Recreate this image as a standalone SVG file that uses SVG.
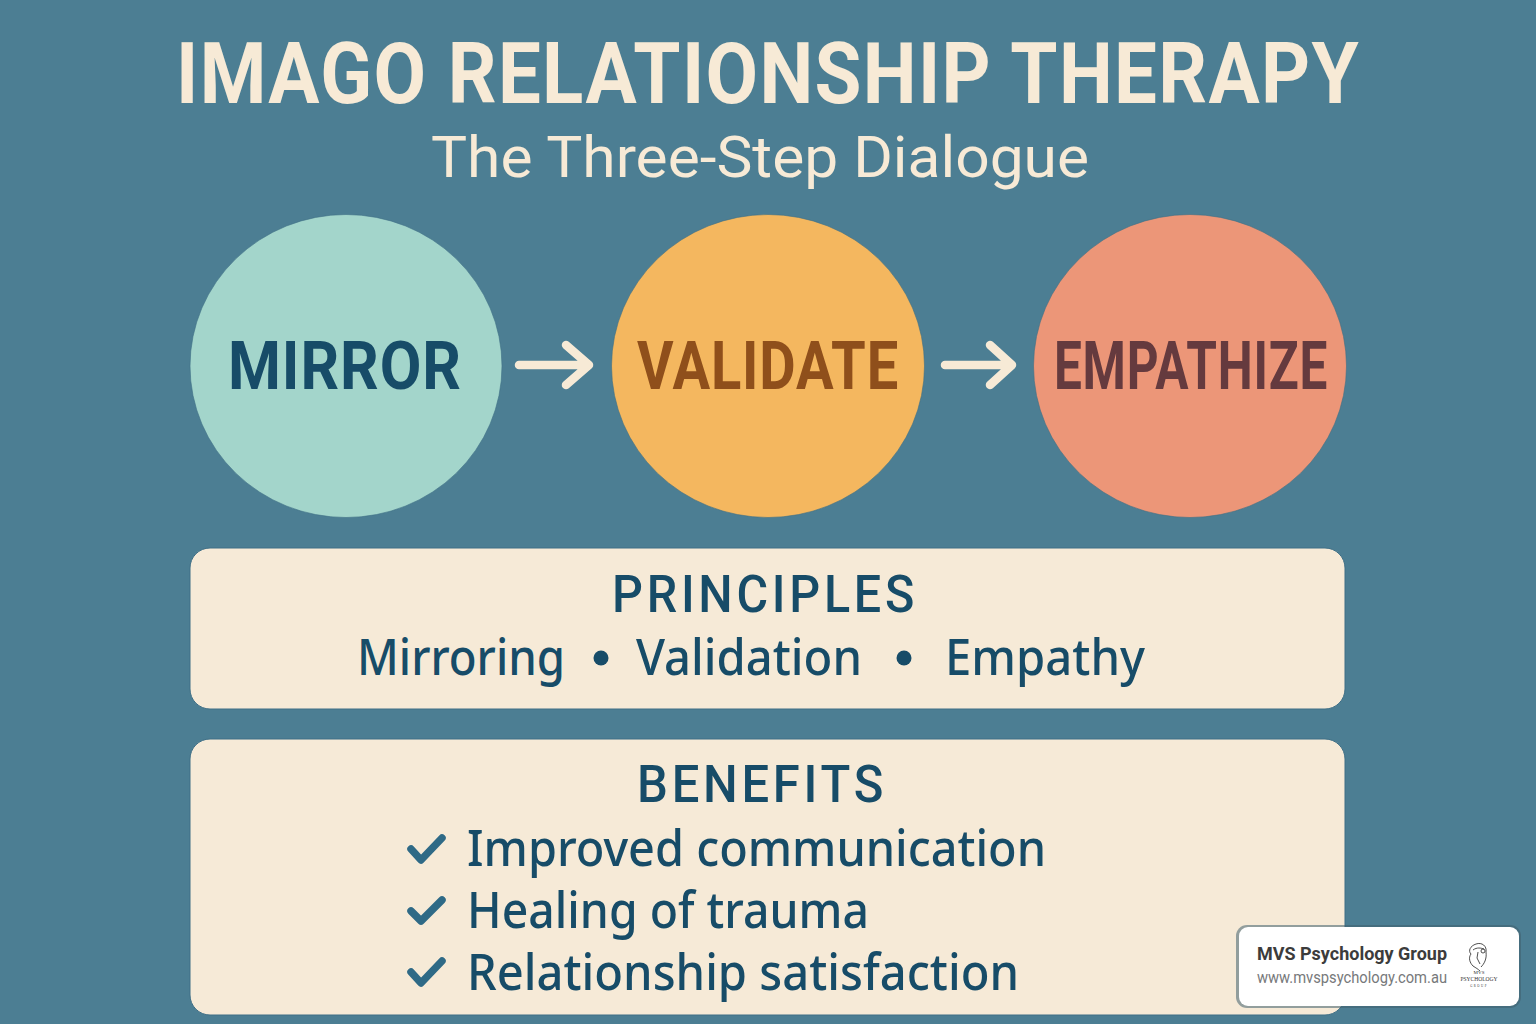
<svg xmlns="http://www.w3.org/2000/svg" width="1536" height="1024" viewBox="0 0 1536 1024">
<style>
text{font-family:"Noto Sans","Open Sans","Liberation Sans",sans-serif;text-anchor:middle}
.rb{font-family:Roboto,"Liberation Sans",sans-serif}
.cream{fill:#f7ead6}
.navy{fill:#174c68}
.node{font-weight:700;font-size:66px;letter-spacing:1px}
.head{font-weight:500;font-size:52px;letter-spacing:4px}
.item{font-weight:500;font-size:50px}
.li{text-anchor:start}
.arrow{fill:none;stroke:#f7ead6;stroke-width:8.500;stroke-linecap:round;stroke-linejoin:round}
.check{fill:none;stroke:#2f6a86;stroke-width:7.500;stroke-linecap:round;stroke-linejoin:round}
.card{fill:#f6ead7;stroke:#3f6f86;stroke-width:1}
.edge{stroke:#3f6f86;stroke-width:1;stroke-opacity:.6}
.logo{fill:none;stroke:#222;stroke-width:.8}
.lt{font-family:"Liberation Serif",serif;fill:#333}
</style>
<rect id="background" width="1536" height="1024" fill="#4c7e93"/>
<g id="title">
<text class="cream rb li" x="176" y="103" font-size="85" font-weight="700" letter-spacing="1.500" textLength="1184" lengthAdjust="spacingAndGlyphs">IMAGO RELATIONSHIP THERAPY</text>
<text class="cream rb" x="760" y="177" font-size="58" font-weight="400" textLength="658" lengthAdjust="spacingAndGlyphs">The Three-Step Dialogue</text>
</g>
<g id="node-mirror">
<ellipse class="edge" cx="346" cy="366" rx="156" ry="151.500" fill="#a3d5cb"/>
<text class="node rb" x="345" y="389" fill="#174c68" textLength="234" lengthAdjust="spacingAndGlyphs">MIRROR</text>
</g>
<g id="node-validate">
<ellipse class="edge" cx="768" cy="366" rx="156.500" ry="151.500" fill="#f4b75f"/>
<text class="node rb" x="768" y="389" fill="#8f4f1b" textLength="262" lengthAdjust="spacingAndGlyphs">VALIDATE</text>
</g>
<g id="node-empathize">
<ellipse class="edge" cx="1190" cy="366" rx="156.500" ry="151.500" fill="#ec9678"/>
<text class="node rb" x="1191" y="389" fill="#653a3e" textLength="274" lengthAdjust="spacingAndGlyphs">EMPATHIZE</text>
</g>
<g id="connectors">
<path class="arrow" d="M519 365H587M566 345L589 365L566 385"/>
<path class="arrow" d="M945 365H1011M990 345L1012 365L990 385"/>
</g>
<g id="node-principles">
<rect class="card" x="190" y="548" width="1155" height="161" rx="20"/>
<text class="head navy rb" x="765" y="612" textLength="306" lengthAdjust="spacingAndGlyphs">PRINCIPLES</text>
<text class="item navy li" x="357" y="675" textLength="208" lengthAdjust="spacingAndGlyphs">Mirroring</text>
<circle cx="601" cy="658" r="7.500" fill="#174c68"/>
<text class="item navy li" x="636" y="675" textLength="226" lengthAdjust="spacingAndGlyphs">Validation</text>
<circle cx="904" cy="658" r="7.500" fill="#174c68"/>
<text class="item navy li" x="945" y="675" textLength="200" lengthAdjust="spacingAndGlyphs">Empathy</text>
</g>
<g id="node-benefits">
<rect class="card" x="190" y="739" width="1155" height="276" rx="20"/>
<text class="head navy rb" x="762" y="802" textLength="250" lengthAdjust="spacingAndGlyphs">BENEFITS</text>
<path class="check" d="M411 849L421 860L442 838"/>
<path class="check" d="M411 911L421 921L442 900"/>
<path class="check" d="M411 972L421 983L442 961"/>
<text class="item navy li" x="467" y="866" textLength="579" lengthAdjust="spacingAndGlyphs">Improved communication</text>
<text class="item navy li" x="467" y="928" textLength="402" lengthAdjust="spacingAndGlyphs">Healing of trauma</text>
<text class="item navy li" x="467" y="990" textLength="552" lengthAdjust="spacingAndGlyphs">Relationship satisfaction</text>
</g>
<g id="badge">
<rect x="1236" y="925" width="285" height="83" rx="11" fill="#3f5f6e" fill-opacity=".55"/>
<rect x="1239" y="927" width="280" height="79" rx="9" fill="#fff"/>
<text x="1257" y="960" font-size="17.500" font-weight="700" fill="#3c3c3c" style="font-family:Roboto,'Liberation Sans',sans-serif;text-anchor:start" textLength="190" lengthAdjust="spacingAndGlyphs">MVS Psychology Group</text>
<text x="1257" y="983" font-size="16" fill="#77797b" style="font-family:Roboto,'Liberation Sans',sans-serif;text-anchor:start" textLength="190" lengthAdjust="spacingAndGlyphs">www.mvspsychology.com.au</text>
<path class="logo" d="M1476 944C1470 946 1468 951 1471 954C1468 958 1470 963 1473 966C1476 968 1478 969 1480 971M1476 944C1482 942 1487 946 1486 952C1487 959 1484 964 1481 967M1473 950C1477 947 1481 948 1484 949M1478 952L1477 958L1480 964M1481 951a2 2 0 1 0 4 0a2 2 0 1 0 -4 0"/>
<text class="lt" x="1479" y="974" font-size="5">MVS</text>
<text class="lt" x="1479" y="981" font-size="5.500">PSYCHOLOGY</text>
<text class="lt" x="1479" y="987" font-size="3" letter-spacing="1.500">GROUP</text>
</g>
</svg>
